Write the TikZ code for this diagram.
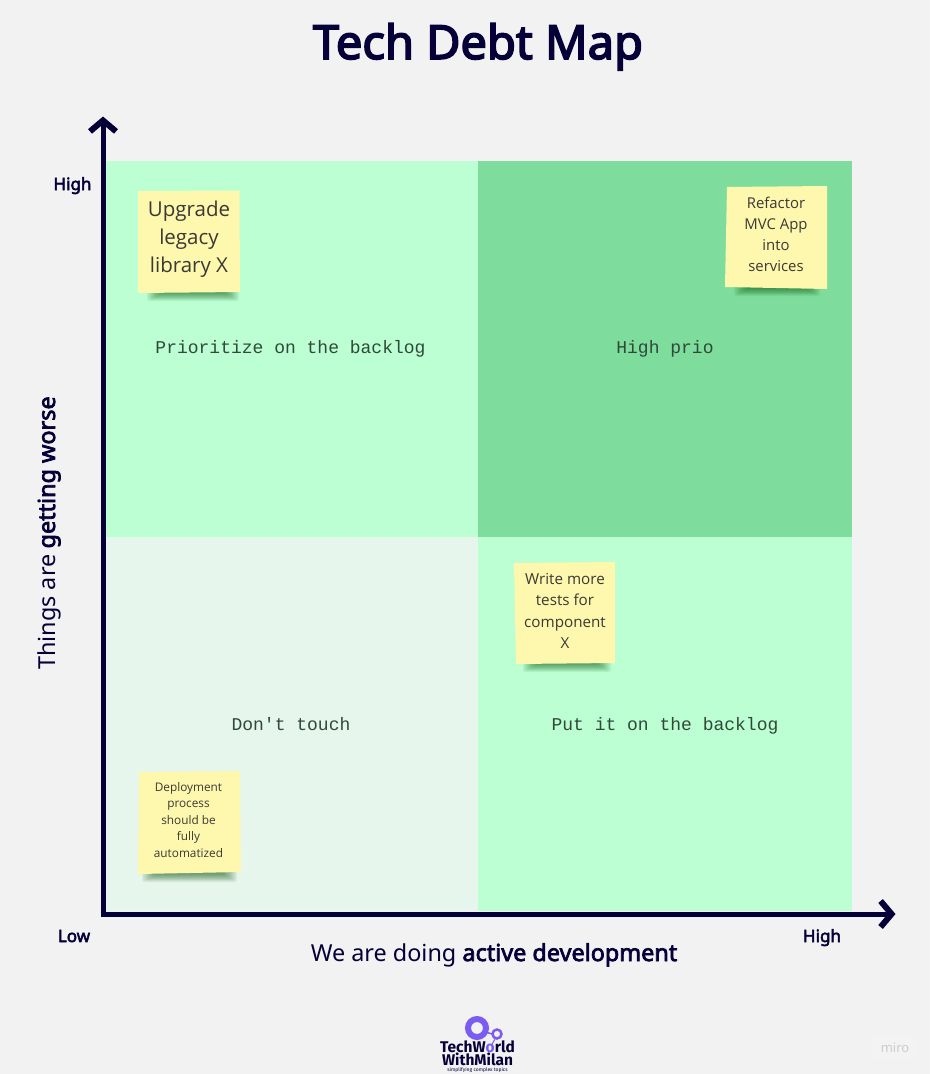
\documentclass[tikz,border=0pt]{standalone}
\usepackage{fontspec}
\setmainfont{Noto Sans}
\newfontfamily\nbold[FakeBold=3]{Noto Sans}
\newfontfamily\ntitle[FakeBold=3.5]{Noto Sans}
\newfontfamily\stickyfont{Open Sans}
\newfontfamily\monofont{Liberation Mono}
\newfontfamily\logofont{Fira Sans}
\usetikzlibrary{arrows.meta}
\definecolor{bg}{HTML}{F2F2F2}
\definecolor{navy}{HTML}{050038}
\definecolor{midgreen}{HTML}{BBFFD2}
\definecolor{darkgreen}{HTML}{7EDD9C}
\definecolor{palegreen}{HTML}{E6F6EC}
\definecolor{sticky}{HTML}{FEF7AE}
\definecolor{stickytext}{HTML}{3A3A34}
\definecolor{monotext}{HTML}{2F4A3A}
\definecolor{logop}{HTML}{7B5CF0}
\tikzset{
  x=1pt,y=-1pt,
  stickybox/.style={draw=none,align=center,inner sep=0pt,text=stickytext},
  quadlabel/.style={anchor=base,inner sep=0pt,font=\monofont\fontsize{18}{20}\selectfont,text=monotext},
  axisline/.style={draw=navy,line width=5pt,-{Straight Barb[length=11pt,width=26pt,line width=6pt]}},
  ticklabel/.style={anchor=base,inner sep=0pt,font=\nbold\fontsize{17}{20}\selectfont,text=navy},
  axislabel/.style={font=\fontsize{23.4}{26}\selectfont,text=navy},
}
\newcommand{\stickyshadow}[3]{% x1,x2,y
  \foreach \k in {0,1,...,11}{
    \fill[black!70!green,opacity=0.055,rounded corners=2pt] (#1-5+\k*1.2,#3-3) rectangle (#2+5-\k*1.2,#3+8-\k*0.7);
  }
}
\begin{document}
\begin{tikzpicture}
\useasboundingbox (0,0) rectangle (930,1074);
\fill[bg] (0,0) rectangle (930,1074);
% quadrants
\fill[midgreen] (105,161) rectangle (478,537);
\fill[darkgreen] (478,161) rectangle (852,537);
\fill[palegreen] (105,537) rectangle (478,911);
\fill[midgreen] (478,537) rectangle (852,911);
% title
\node[anchor=base,inner sep=0pt,font=\ntitle\fontsize{47}{52}\selectfont,text=navy] (title) at (478,59) {Tech Debt Map};
% axes
\coordinate (origin) at (103,914);
\coordinate (ytop) at (103,116.5);
\coordinate (xend) at (895.5,914);
\draw[axisline] (103,916.5) -- (ytop);
\draw[axisline] (100.5,914) -- (xend);
% quadrant labels
\node[quadlabel] (l1) at (290.5,353) {Prioritize on the backlog};
\node[quadlabel] (l2) at (665,353) {High prio};
\node[quadlabel] (l3) at (291,730) {Don't touch};
\node[quadlabel] (l4) at (665,730) {Put it on the backlog};
% axis ticks
\node[ticklabel] (yhigh) at (72.5,190) {High};
\node[ticklabel] (xlow) at (74,942) {Low};
\node[ticklabel] (xhigh) at (822,942) {High};
% axis labels
\node[axislabel,anchor=base] (xlabel) at (494,961) {We are doing {\nbold active development}};
\node[axislabel,rotate=90,anchor=base] (ylabel) at (55,533) {Things are {\nbold getting worse}};
% stickies
\stickyshadow{152}{234}{293}
\fill[sticky] (138,191) -- (239.5,190.5) -- (240,292) -- (138,293) -- cycle;
\node[stickybox,font=\stickyfont\fontsize{20.5}{28}\selectfont] (s1) at (189,239.5) {Upgrade\\legacy\\library X};
\stickyshadow{739}{815}{288}
\fill[sticky] (727,187) -- (827,186) -- (827,289) -- (725,287) -- cycle;
\node[stickybox,font=\stickyfont\fontsize{14.9}{21}\selectfont] (s2) at (776,234.5) {Refactor\\MVC App\\into\\services};
\stickyshadow{528}{606}{664}
\fill[sticky] (514,563) -- (615,562) -- (615,663) -- (516,664) -- cycle;
\node[stickybox,font=\stickyfont\fontsize{15.2}{21.5}\selectfont] (s3) at (565,611) {Write more\\tests for\\component\\X};
\stickyshadow{147}{232}{874}
\fill[sticky] (139,772) -- (240,771) -- (241,872) -- (138,874) -- cycle;
\node[stickybox,font=\stickyfont\fontsize{11.8}{16.5}\selectfont] (s4) at (188.5,820) {Deployment\\process\\should be\\fully\\automatized};
% logo
\draw[logop,line width=6pt] (477,1028) circle (9);
\draw[logop,line width=2.5pt] (497,1034) circle (4.5);
\draw[logop,line width=1.5pt] (485,1032) -- (492.5,1034);
\draw[logop,line width=1pt] (495,1039) -- (491,1046);
\node[inner sep=0pt,align=center,anchor=base,font=\logofont\bfseries\fontsize{15.5}{13}\selectfont,text=navy] (logo) at (477.5,1065.5) {TechW\textcolor{logop}{o}rld\\WithMilan};
\node[inner sep=0pt,anchor=base,font=\logofont\fontsize{5}{5}\selectfont,text=navy] (logotag) at (477.5,1071.5) {simplifying complex topics};
% miro
\fill[white,opacity=0.12] (872,1036) rectangle (916,1058);
\node[inner sep=0pt,anchor=base,font=\fontsize{13}{14}\selectfont,text=black!20] (miro) at (895,1052) {miro};
\end{tikzpicture}
\end{document}
